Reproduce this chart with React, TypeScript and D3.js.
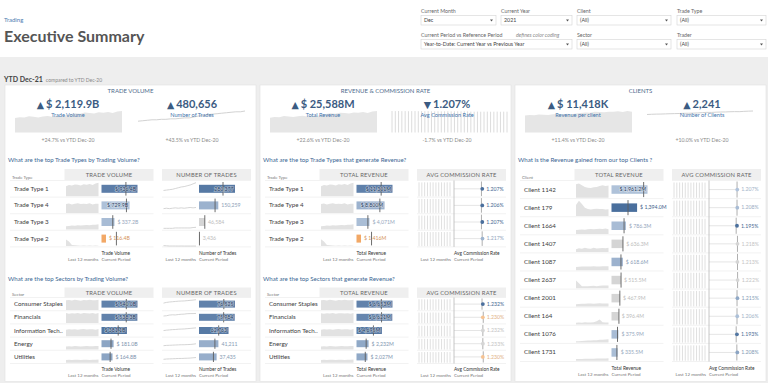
import React from 'react';
import * as d3 from 'd3';

const W = 768;
const H = 383;
const FONT = "Lato, 'Open Sans', 'DejaVu Sans', sans-serif";

// ---------- filters ----------
const filterTitles = ['Current Month', 'Current Year', 'Client', 'Trade Type', 'Current Period vs Reference Period', 'Sector', 'Trader'];
const filterValues = ['Dec', '2021', '(All)', '(All)', 'Year-to-Date: Current Year vs Previous Year', '(All)', '(All)'];

// ---------- KPI figures ----------
const kpiVolume = 2119.9; // $B
const kpiVolumeChange = 0.247;
const kpiTrades = 480656;
const kpiTradesChange = 0.435;
const kpiRevenue = 25588; // $M
const kpiRevenueChange = 0.226;
const kpiRate = 1.207; // %
const kpiRateChange = -0.017;
const kpiClients = 2241;
const kpiClientsChange = 0.1;
const kpiRevPerClientChange = 0.114;

// monthly history for KPI sparklines (previous year + current year)
const volumeByMonth = [130, 137, 133, 145, 140, 135, 143, 147, 141, 150, 145, 154, 165, 172, 168, 178, 175, 170, 180, 176, 182, 174, 188, 192];
const tradesByMonth = [24, 25, 26, 27, 27, 28, 28, 29, 29, 30, 31, 31, 33, 35, 36, 38, 39, 40, 41, 42, 43, 44, 44, 45.7];
const rateByMonth = [
  1.242, 1.238, 1.245, 1.236, 1.24, 1.233, 1.239, 1.241, 1.235, 1.237, 1.232, 1.236,
  1.231, 1.226, 1.23, 1.224, 1.229, 1.232, 1.225, 1.227, 1.23, 1.223, 1.228, 1.226,
  1.21, 1.205, 1.209, 1.203, 1.208, 1.211, 1.204, 1.206, 1.209, 1.202, 1.207, 1.208,
];
const revPerClientByMonth = [780, 810, 795, 830, 820, 805, 840, 850, 830, 860, 845, 870, 900, 925, 915, 950, 940, 930, 960, 955, 975, 945, 990, 960];
const clientsByMonth = [1620, 1640, 1655, 1660, 1675, 1690, 1700, 1710, 1725, 1730, 1745, 1760, 1790, 1810, 1805, 1830, 1845, 1850, 1870, 1880, 1875, 1900, 1920, 1935];

// ---------- trade types ----------
const ttLabels = ['Trade Type 1', 'Trade Type 4', 'Trade Type 3', 'Trade Type 2'];
const ttVolume = [936.4, 729.9, 337.2, 116.4];
const ttVolumeChange = [0.475, 0.125, 0.15, -0.7];
const ttVolumeMonthly = [
  [68, 75, 72, 79, 77, 73, 80, 78, 82, 75, 86, 91],
  [59, 63, 57, 61, 65, 59, 62, 60, 64, 57, 61, 62],
  [22, 24, 26, 25, 28, 27, 29, 30, 28, 31, 32, 35],
  [45, 30, 8, 5, 4, 3, 4, 3, 4, 3, 4, 3],
];
const ttTrades = [280377, 150259, 46584, 3436];
const ttTradesChange = [0.5, 0.2, 0.03, -0.03];
const ttTradesMonthly = [
  [15, 16, 17, 18, 20, 22, 24, 25, 27, 29, 32, 35],
  [11, 12, 11, 12, 13, 12, 13, 12, 13, 14, 13, 14],
  [3, 3, 3, 3, 4, 4, 4, 4, 4, 4, 5, 5.6],
  [1.2, 0.8, 0.2, 0.2, 0.2, 0.1, 0.2, 0.1, 0.1, 0.1, 0.1, 0.1],
];
const ttRevenue = [11301, 8800, 4071, 1416];
const ttRevenueChange = [0.46, 0.2, 0.14, -0.7];
const ttRate = [1.207, 1.206, 1.207, 1.217];
const ttRateChange = [0.03, 0.03, 0.03, 0.012];
const ttRateMonthly = [
  [1.21, 1.2, 1.21, 1.2, 1.21, 1.21, 1.2, 1.21, 1.21, 1.2, 1.21, 1.21],
  [1.2, 1.21, 1.2, 1.21, 1.2, 1.21, 1.21, 1.2, 1.21, 1.2, 1.21, 1.2],
  [1.21, 1.21, 1.2, 1.21, 1.2, 1.21, 1.2, 1.21, 1.21, 1.21, 1.2, 1.21],
  [1.22, 1.21, 1.22, 1.22, 1.21, 1.22, 1.22, 1.21, 1.22, 1.21, 1.22, 1.22],
];

// ---------- sectors ----------
const sectorLabels = ['Consumer Staples', 'Financials', 'Information Tech..', 'Energy', 'Utilities'];
const sectorVolume = [540.0, 538.3, 381.1, 181.0, 164.8];
const sectorVolumeChange = [0.45, 0.45, 0.52, 0.27, 0.27];
const sectorVolumeMonthly = [
  [44, 46, 43, 47, 45, 42, 46, 44, 47, 45, 44, 47],
  [46, 43, 45, 44, 47, 43, 46, 45, 44, 46, 43, 46.3],
  [30, 32, 31, 33, 30, 32, 34, 31, 33, 32, 30, 33.1],
  [14, 15, 14, 16, 15, 14, 15, 16, 15, 15, 16, 16],
  [13, 14, 13, 14, 14, 13, 14, 14, 13, 14, 14, 14.8],
];
const sectorTrades = [76525, 75984, 62763, 41211, 37435];
const sectorTradesChange = [0.45, 0.45, 0.5, 0.22, 0.22];
const sectorTradesMonthly = [
  [5, 5.5, 5.8, 6, 6.2, 6.4, 6.5, 6.6, 6.8, 7, 7.2, 7.5],
  [5.2, 5.4, 5.9, 6.1, 6.0, 6.3, 6.5, 6.6, 6.9, 7.0, 7.0, 7.1],
  [4.2, 4.5, 4.7, 4.9, 5.0, 5.2, 5.3, 5.4, 5.6, 5.8, 6.0, 6.2],
  [2.8, 3.0, 3.1, 3.2, 3.3, 3.4, 3.5, 3.5, 3.6, 3.7, 3.9, 4.2],
  [2.5, 2.7, 2.8, 2.9, 3.0, 3.1, 3.1, 3.2, 3.3, 3.4, 3.6, 3.8],
];
const sectorRevenue = [6653, 6621, 4695, 2232, 2027];
const sectorRevenueChange = [0.45, 0.43, 0.5, 0.25, 0.25];
const sectorRate = [1.232, 1.23, 1.232, 1.233, 1.23];
const sectorRateChange = [0.03, -0.015, 0.0, 0.002, -0.015];
const sectorRateMonthly = [
  [1.23, 1.24, 1.23, 1.23, 1.24, 1.23, 1.23, 1.24, 1.23, 1.23, 1.23, 1.24],
  [1.23, 1.23, 1.22, 1.23, 1.23, 1.24, 1.23, 1.22, 1.23, 1.23, 1.24, 1.23],
  [1.24, 1.23, 1.23, 1.23, 1.22, 1.23, 1.24, 1.23, 1.23, 1.24, 1.23, 1.23],
  [1.23, 1.23, 1.24, 1.23, 1.23, 1.23, 1.24, 1.23, 1.22, 1.23, 1.24, 1.23],
  [1.22, 1.23, 1.23, 1.24, 1.23, 1.23, 1.22, 1.23, 1.23, 1.24, 1.23, 1.23],
];

// ---------- clients ----------
const clientLabels = ['Client 1142', 'Client 179', 'Client 1664', 'Client 1407', 'Client 1087', 'Client 2637', 'Client 2001', 'Client 164', 'Client 1076', 'Client 1731'];
const clientRevenue = [1961.2, 1394.0, 786.3, 636.3, 618.6, 515.5, 467.9, 396.4, 375.9, 335.5];
const clientRevenueChange = [0.12, 0.55, 0.15, 0.02, 0.2, -0.01, 0.03, -0.02, 0.15, 0.14];
const clientRevenueMonthly = [
  [190, 200, 175, 150, 140, 135, 145, 150, 165, 175, 165, 171],
  [150, 210, 165, 115, 95, 90, 95, 100, 95, 95, 90, 94],
  [55, 60, 62, 58, 65, 70, 66, 68, 72, 70, 75, 65],
  [40, 55, 45, 60, 50, 48, 62, 50, 55, 58, 52, 61.3],
  [45, 48, 50, 52, 50, 52, 55, 50, 53, 55, 54, 54.6],
  [110, 70, 30, 28, 30, 32, 35, 30, 35, 38, 40, 37.5],
  [30, 35, 38, 36, 40, 42, 38, 40, 45, 42, 40, 41.9],
  [25, 28, 26, 30, 28, 27, 30, 45, 70, 30, 28, 29.4],
  [18, 20, 22, 25, 28, 30, 32, 34, 38, 40, 42, 46.9],
  [22, 24, 25, 26, 27, 28, 28, 29, 30, 31, 32, 33.5],
];
const clientRate = [1.207, 1.208, 1.195, 1.218, 1.213, 1.222, 1.215, 1.206, 1.193, 1.208];
const clientRateChange = [0.008, 0.01, 0.03, 0.002, -0.003, 0.001, 0.015, 0.009, 0.028, 0.016];
const clientRateMonthly = [
  [1.21, 1.2, 1.21, 1.21, 1.2, 1.21, 1.2, 1.21, 1.21, 1.2, 1.21, 1.2],
  [1.2, 1.21, 1.21, 1.2, 1.21, 1.21, 1.2, 1.21, 1.2, 1.21, 1.21, 1.21],
  [1.19, 1.2, 1.19, 1.2, 1.2, 1.19, 1.2, 1.19, 1.2, 1.2, 1.19, 1.2],
  [1.22, 1.21, 1.22, 1.22, 1.21, 1.22, 1.22, 1.21, 1.22, 1.22, 1.21, 1.22],
  [1.21, 1.22, 1.21, 1.21, 1.22, 1.21, 1.21, 1.22, 1.21, 1.21, 1.22, 1.21],
  [1.22, 1.22, 1.23, 1.22, 1.22, 1.22, 1.23, 1.22, 1.22, 1.23, 1.22, 1.22],
  [1.21, 1.22, 1.21, 1.22, 1.21, 1.22, 1.21, 1.21, 1.22, 1.21, 1.22, 1.21],
  [1.2, 1.21, 1.2, 1.21, 1.21, 1.2, 1.21, 1.2, 1.21, 1.21, 1.2, 1.21],
  [1.19, 1.19, 1.2, 1.19, 1.19, 1.2, 1.19, 1.19, 1.2, 1.19, 1.19, 1.2],
  [1.2, 1.21, 1.21, 1.2, 1.21, 1.2, 1.21, 1.21, 1.2, 1.21, 1.2, 1.21],
];

// ---------- formatting & colour helpers ----------
const fmtB = (v: number) => `$ ${d3.format(',.1f')(v)}B`;
const fmtM0 = (v: number) => `$ ${d3.format(',')(Math.round(v))}M`;
const fmtM1 = (v: number) => `$ ${d3.format(',.1f')(v)}M`;
const fmtInt = (v: number) => d3.format(',')(v);
const fmtPct = (v: number) => `${v.toFixed(3)}%`;
const fmtChange = (c: number) => `${c >= 0 ? '+' : ''}${(c * 100).toFixed(1)}% vs YTD Dec-20`;

const blueRamp = d3.interpolateRgb('#bfcfe3', '#4a6f9d');
const orangeRamp = d3.interpolateRgb('#f9d4b0', '#f2a866');
function changeColor(c: number, t: number, span: number) {
  if (Math.abs(c) < t) return '#d5d5d5';
  const k = Math.min(1, (Math.abs(c) - t) / span);
  return c > 0 ? blueRamp(k) : orangeRamp(k);
}
const darker = (c: string, k: number) => d3.color(c)!.darker(k).formatHex();

const KPI_NUM = '#3b5b82';
const KPI_LABEL = '#3f73ab';
const QUESTION = '#3a6592';
const LABEL_FS = 5.2;

// ---------- KPI tile ----------
type Spark = { kind: 'area' | 'line' | 'bars'; data: number[] };

function Kpi({ cx, x0, x1, value, up, label, change, spark }: { cx: number; x0: number; x1: number; value: string; up: boolean; label: string; change: string; spark: Spark }) {
  const top = 111;
  const bottom = 132.5;
  const x = d3.scaleLinear().domain([0, spark.data.length - 1]).range([x0, x1]);
  const y = d3.scaleLinear().domain([0, d3.max(spark.data)!]).range([bottom, top]);
  let mark: React.ReactNode = null;
  if (spark.kind === 'area') {
    const area = d3.area<number>().x((_, i) => x(i)).y0(bottom).y1((d) => y(d));
    mark = <path d={area(spark.data)!} fill="#e6e6e6" />;
  } else if (spark.kind === 'line') {
    const line = d3.line<number>().x((_, i) => x(i)).y((d) => y(d));
    mark = <path d={line(spark.data)!} fill="none" stroke="#d2d2d2" strokeWidth={1} />;
  } else {
    const bx = d3.scalePoint<number>().domain(d3.range(spark.data.length)).range([x0, x1]);
    mark = (
      <g>
        {spark.data.map((d, i) => (
          <line key={i} x1={bx(i)} x2={bx(i)} y1={bottom} y2={y(d)} stroke="#dcdcdc" strokeWidth={1} />
        ))}
      </g>
    );
  }
  return (
    <g>
      {mark}
      <text x={cx} y={107.5} textAnchor="middle" fontSize={11} fontWeight={700} fill={KPI_NUM}>
        <tspan fontFamily="'DejaVu Sans'" fontSize={9.5}>{up ? '▲' : '▼'}</tspan>
        <tspan dx={2}>{value}</tspan>
      </text>
      <text x={cx} y={117} textAnchor="middle" fontSize={5.6} fill={KPI_LABEL}>{label}</text>
      <text x={cx} y={141.5} textAnchor="middle" fontSize={5.2} fill="#8a8a8a">{change}</text>
    </g>
  );
}

// ---------- table columns ----------
type BarCol = { kind: 'bar'; title: string; footer: string; values: number[]; changes: number[]; monthly: number[][]; spark: 'area' | 'line'; fmt: (v: number) => string };
type DotCol = { kind: 'dot'; title: string; footer: string; values: number[]; changes: number[]; monthly: number[][] };

function BarColumn({ bx, rowTop, rowH, barH, col }: { bx: number; rowTop: number; rowH: number; barH: number; col: BarCol }) {
  const w = d3.scaleLinear().domain([0, d3.max(col.values)!]).range([0, 36]);
  const months = col.monthly[0].length;
  const sx = d3.scaleLinear().domain([0, months - 1]).range([bx + 1.5, bx + 34]);
  const sy = d3.scaleLinear().domain([0, d3.max(col.monthly.flat())!]).range([0, rowH - 3]);
  const barX = bx + 37;
  return (
    <g>
      {col.values.map((v, i) => {
        const top = rowTop + i * rowH;
        const bottom = top + rowH;
        const cy = top + rowH / 2;
        const base = bottom - 0.8;
        const area = d3.area<number>().x((_, j) => sx(j)).y0(base).y1((d) => base - sy(d));
        const line = d3.line<number>().x((_, j) => sx(j)).y((d) => base - sy(d));
        const color = changeColor(col.changes[i], 0.05, 0.5);
        const bw = w(v);
        const prior = v / (1 + col.changes[i]);
        const label = col.fmt(v);
        const tw = label.length * LABEL_FS * 0.5;
        const inside = bw >= tw + 4.4;
        return (
          <g key={i}>
            {col.spark === 'area' ? (
              <path d={area(col.monthly[i])!} fill="#e2e2e2" />
            ) : (
              <path d={line(col.monthly[i])!} fill="none" stroke="#d0d0d0" strokeWidth={0.9} />
            )}
            <rect x={barX} y={cy - barH / 2} width={Math.max(bw, 0.8)} height={barH} fill={color} />
            <line x1={barX + w(prior)} x2={barX + w(prior)} y1={top + 1.5} y2={bottom - 1.5} stroke="#5e5e5e" strokeWidth={0.9} />
            {inside ? (
              <text x={barX + bw - 1.5} y={cy + 1.8} textAnchor="end" fontSize={LABEL_FS} fill="#1f3a5c" stroke="rgba(255,255,255,0.5)" strokeWidth={1.2} paintOrder="stroke">
                {label}
              </text>
            ) : (
              <text x={barX + Math.max(bw, 0.8) + 3} y={cy + 1.8} fontSize={LABEL_FS} fill={darker(color, 0.35)}>
                {label}
              </text>
            )}
          </g>
        );
      })}
    </g>
  );
}

function DotColumn({ bx, rowTop, rowH, col }: { bx: number; rowTop: number; rowH: number; col: DotCol }) {
  const n = col.values.length;
  const months = col.monthly[0].length;
  const sp = d3.scalePoint<number>().domain(d3.range(months)).range([bx + 2, bx + 33]);
  const sy = d3.scaleLinear().domain([0, d3.max(col.monthly.flat())!]).range([0, rowH - 2.5]);
  const dx = d3.scaleLinear().domain([0, 1.75]).range([bx + 37, bx + 78]);
  return (
    <g>
      {col.values.map((v, i) => {
        const top = rowTop + i * rowH;
        const bottom = top + rowH;
        const cy = top + rowH / 2;
        const base = bottom - 0.8;
        const color = changeColor(col.changes[i], 0.005, 0.025);
        const prior = v / (1 + col.changes[i]);
        return (
          <g key={i}>
            {col.monthly[i].map((m, j) => (
              <line key={j} x1={sp(j)} x2={sp(j)} y1={base} y2={base - sy(m)} stroke="#d8d8d8" strokeWidth={0.8} />
            ))}
            <line x1={bx + 37} x2={dx(v)} y1={cy} y2={cy} stroke="#dedede" strokeWidth={0.8} />
            <line x1={dx(prior)} x2={dx(prior)} y1={top + 1} y2={bottom - 1} stroke="#9a9a9a" strokeWidth={0.8} />
            <circle cx={dx(v)} cy={cy} r={1.9} fill={color} />
            <text x={dx(v) + 4} y={cy + 1.8} fontSize={LABEL_FS} fill={darker(color, 0.25)}>
              {fmtPct(v)}
            </text>
          </g>
        );
      })}
      <line x1={bx + 37} x2={bx + 37} y1={rowTop} y2={rowTop + n * rowH} stroke="#b8b8b8" strokeWidth={0.8} />
    </g>
  );
}

type SectionProps = {
  x0: number;
  question: string;
  qY: number;
  dim: string;
  labels: string[];
  bandY: number;
  bandH: number;
  rowTop: number;
  rowH: number;
  barH: number;
  footY: number;
  cols: (BarCol | DotCol)[];
};

function Section({ x0, question, qY, dim, labels, bandY, bandH, rowTop, rowH, barH, footY, cols }: SectionProps) {
  const n = labels.length;
  const bandXs = [x0 + 59.5, x0 + 157];
  return (
    <g>
      <text x={x0 + 3} y={qY} fontSize={6.1} fill={QUESTION}>{question}</text>
      <text x={x0 + 7} y={bandY + bandH - 1.5} fontSize={4.3} fill="#777">{dim}</text>
      {d3.range(n + 1).map((i) => (
        <g key={i}>
          <line x1={x0 + 5} x2={x0 + 148.5} y1={rowTop + i * rowH} y2={rowTop + i * rowH} stroke="#ececec" strokeWidth={0.7} />
          <line x1={x0 + 157} x2={x0 + 246} y1={rowTop + i * rowH} y2={rowTop + i * rowH} stroke="#ececec" strokeWidth={0.7} />
        </g>
      ))}
      {labels.map((l, i) => (
        <text key={l} x={x0 + 9} y={rowTop + (i + 0.5) * rowH + 2} fontSize={6.2} fill="#3c3c3c">{l}</text>
      ))}
      {cols.map((c, ci) => {
        const bx = bandXs[ci];
        return (
          <g key={ci}>
            <rect x={bx} y={bandY} width={89} height={bandH} fill="#efefef" />
            <text x={bx + 44.5} y={bandY + bandH / 2 + 2} textAnchor="middle" fontSize={5.8} letterSpacing={0.2} fill="#666">{c.title}</text>
            {c.kind === 'bar' ? (
              <BarColumn bx={bx} rowTop={rowTop} rowH={rowH} barH={barH} col={c} />
            ) : (
              <DotColumn bx={bx} rowTop={rowTop} rowH={rowH} col={c} />
            )}
            <text x={bx + 37} y={footY} fontSize={4.8} fill="#333">{c.footer}</text>
            <text x={bx + 34} y={footY + 6} textAnchor="end" fontSize={4.5} fill="#777">Last 12 months</text>
            <text x={bx + 37} y={footY + 6} fontSize={4.5} fill="#777">Current Period</text>
          </g>
        );
      })}
    </g>
  );
}

// ---------- layout ----------
const PANEL_TOP = 85;
const panelXs = [5, 260, 515];
const filterSlots = [
  { x: 421, w: 75, row: 0 },
  { x: 501, w: 71, row: 0 },
  { x: 577, w: 94, row: 0 },
  { x: 677, w: 89, row: 0 },
  { x: 421, w: 151, row: 1 },
  { x: 577, w: 94, row: 1 },
  { x: 677, w: 89, row: 1 },
];

export default function App() {
  const revenueByMonth = volumeByMonth.map((v, i) => v * rateByMonth[12 + i] * 10);
  const ttRevenueMonthly = ttVolumeMonthly.map((row, i) => row.map((v) => v * ttRate[i] * 10));
  const sectorRevenueMonthly = sectorVolumeMonthly.map((row, i) => row.map((v) => v * sectorRate[i] * 10));
  const revPerClient = (kpiRevenue * 1000) / kpiClients;

  const s1 = { qY: 162, bandY: 169, bandH: 11, rowTop: 180.5, rowH: 16.6, barH: 8, footY: 255 };
  const s2 = { qY: 281, bandY: 287.5, bandH: 10, rowTop: 297.5, rowH: 13.2, barH: 7, footY: 371 };

  return (
    <svg width={W} height={H} style={{ position: 'absolute', left: 0, top: 0, fontFamily: FONT }}>
      <rect width={W} height={H} fill="#ffffff" />
      <rect y={57} width={W} height={H - 57} fill="#eeeeee" />

      <text x={4} y={22} fontSize={6} fill="#4a7ab0">Trading</text>
      <text x={4} y={41.5} fontSize={16} fontWeight={700} fill="#555">Executive Summary</text>

      {filterSlots.map((s, i) => {
        const ly = s.row === 0 ? 13 : 36.5;
        const by = s.row === 0 ? 15.5 : 39.5;
        return (
          <g key={i}>
            <text x={s.x} y={ly} fontSize={5.3} fill="#666">{filterTitles[i]}</text>
            {i === 4 && (
              <text x={516} y={ly} fontSize={5.3} fontStyle="italic" fill="#888">defines color coding</text>
            )}
            <rect x={s.x} y={by} width={s.w} height={9.5} fill="#fff" stroke="#d4d4d4" strokeWidth={0.6} />
            <text x={s.x + 3} y={by + 6.6} fontSize={5.3} fill="#444">{filterValues[i]}</text>
            <path d={`M${s.x + s.w - 6},${by + 4} l3,0 l-1.5,2 z`} fill="#555" />
          </g>
        );
      })}

      <text x={4} y={82}>
        <tspan fontSize={7} fontWeight={700} fill="#444">YTD Dec-21</tspan>
        <tspan dx={3} fontSize={5} fill="#888">compared to YTD Dec-20</tspan>
      </text>

      {panelXs.map((x) => (
        <rect key={x} x={x} y={PANEL_TOP} width={251} height={H - PANEL_TOP - 1.5} fill="#fff" stroke="#e2e2e2" strokeWidth={0.6} />
      ))}

      {/* Trade volume panel */}
      <text x={panelXs[0] + 125.5} y={92.5} textAnchor="middle" fontSize={6} fill="#4f6b8c">TRADE VOLUME</text>
      <Kpi cx={panelXs[0] + 63} x0={panelXs[0] + 10} x1={panelXs[0] + 117} value={fmtB(kpiVolume)} up={kpiVolumeChange > 0} label="Trade Volume" change={fmtChange(kpiVolumeChange)} spark={{ kind: 'area', data: volumeByMonth }} />
      <Kpi cx={panelXs[0] + 187} x0={panelXs[0] + 133} x1={panelXs[0] + 240} value={fmtInt(kpiTrades)} up={kpiTradesChange > 0} label="Number of Trades" change={fmtChange(kpiTradesChange)} spark={{ kind: 'line', data: tradesByMonth }} />
      <Section
        x0={panelXs[0]} question="What are the top Trade Types by Trading Volume?" dim="Trade Type" labels={ttLabels} {...s1}
        cols={[
          { kind: 'bar', title: 'TRADE VOLUME', footer: 'Trade Volume', values: ttVolume, changes: ttVolumeChange, monthly: ttVolumeMonthly, spark: 'area', fmt: fmtB },
          { kind: 'bar', title: 'NUMBER OF TRADES', footer: 'Number of Trades', values: ttTrades, changes: ttTradesChange, monthly: ttTradesMonthly, spark: 'line', fmt: fmtInt },
        ]}
      />
      <Section
        x0={panelXs[0]} question="What are the top Sectors by Trading Volume?" dim="Sector" labels={sectorLabels} {...s2}
        cols={[
          { kind: 'bar', title: 'TRADE VOLUME', footer: 'Trade Volume', values: sectorVolume, changes: sectorVolumeChange, monthly: sectorVolumeMonthly, spark: 'area', fmt: fmtB },
          { kind: 'bar', title: 'NUMBER OF TRADES', footer: 'Number of Trades', values: sectorTrades, changes: sectorTradesChange, monthly: sectorTradesMonthly, spark: 'line', fmt: fmtInt },
        ]}
      />

      {/* Revenue & commission panel */}
      <text x={panelXs[1] + 125.5} y={92.5} textAnchor="middle" fontSize={6} fill="#4f6b8c">REVENUE &amp; COMMISSION RATE</text>
      <Kpi cx={panelXs[1] + 63} x0={panelXs[1] + 10} x1={panelXs[1] + 117} value={fmtM0(kpiRevenue)} up={kpiRevenueChange > 0} label="Total Revenue" change={fmtChange(kpiRevenueChange)} spark={{ kind: 'area', data: revenueByMonth }} />
      <Kpi cx={panelXs[1] + 187} x0={panelXs[1] + 132} x1={panelXs[1] + 247} value={fmtPct(kpiRate)} up={kpiRateChange > 0} label="Avg Commission Rate" change={fmtChange(kpiRateChange)} spark={{ kind: 'bars', data: rateByMonth }} />
      <Section
        x0={panelXs[1]} question="What are the top Trade Types that generate Revenue?" dim="Trade Type" labels={ttLabels} {...s1}
        cols={[
          { kind: 'bar', title: 'TOTAL REVENUE', footer: 'Total Revenue', values: ttRevenue, changes: ttRevenueChange, monthly: ttRevenueMonthly, spark: 'area', fmt: fmtM0 },
          { kind: 'dot', title: 'AVG COMMISSION RATE', footer: 'Avg Commission Rate', values: ttRate, changes: ttRateChange, monthly: ttRateMonthly },
        ]}
      />
      <Section
        x0={panelXs[1]} question="What are the top Sectors that generate Revenue?" dim="Sector" labels={sectorLabels} {...s2}
        cols={[
          { kind: 'bar', title: 'TOTAL REVENUE', footer: 'Total Revenue', values: sectorRevenue, changes: sectorRevenueChange, monthly: sectorRevenueMonthly, spark: 'area', fmt: fmtM0 },
          { kind: 'dot', title: 'AVG COMMISSION RATE', footer: 'Avg Commission Rate', values: sectorRate, changes: sectorRateChange, monthly: sectorRateMonthly },
        ]}
      />

      {/* Clients panel */}
      <text x={panelXs[2] + 125.5} y={92.5} textAnchor="middle" fontSize={6} fill="#4f6b8c">CLIENTS</text>
      <Kpi cx={panelXs[2] + 63} x0={panelXs[2] + 10} x1={panelXs[2] + 117} value={`$ ${d3.format(',')(Math.round(revPerClient))}K`} up={kpiRevPerClientChange > 0} label="Revenue per client" change={fmtChange(kpiRevPerClientChange)} spark={{ kind: 'area', data: revPerClientByMonth }} />
      <Kpi cx={panelXs[2] + 187} x0={panelXs[2] + 132} x1={panelXs[2] + 238} value={fmtInt(kpiClients)} up={kpiClientsChange > 0} label="Number of Clients" change={fmtChange(kpiClientsChange)} spark={{ kind: 'line', data: clientsByMonth }} />
      <Section
        x0={panelXs[2]} question="What is the Revenue gained from our top Clients ?" dim="Client" labels={clientLabels}
        qY={162} bandY={169} bandH={11} rowTop={180.5} rowH={18.1} barH={8.5} footY={370}
        cols={[
          { kind: 'bar', title: 'TOTAL REVENUE', footer: 'Total Revenue', values: clientRevenue, changes: clientRevenueChange, monthly: clientRevenueMonthly, spark: 'area', fmt: fmtM1 },
          { kind: 'dot', title: 'AVG COMMISSION RATE', footer: 'Avg Commission Rate', values: clientRate, changes: clientRateChange, monthly: clientRateMonthly },
        ]}
      />
    </svg>
  );
}
